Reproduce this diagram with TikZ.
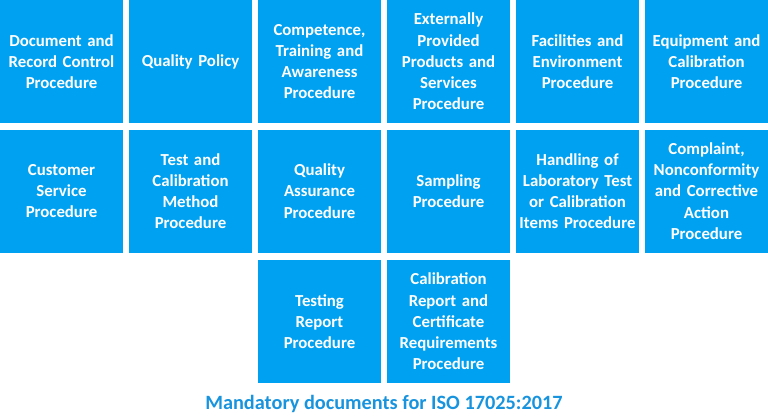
\documentclass[tikz,border=0pt]{standalone}
\usepackage{fontspec}
\setmainfont{Carlito}
\definecolor{tileblue}{RGB}{0,161,241}
\definecolor{captionblue}{RGB}{24,148,222}
\begin{document}
\begin{tikzpicture}
    [ x=1pt, y=1pt
    , tile/.style={fill=tileblue,shape=rectangle,minimum width=123pt,minimum height=123pt,
        inner sep=0pt,text width=121pt,align=center,text=white,
        font=\fontsize{16.8}{21.2}\selectfont\bfseries}
    , caption/.style={text=captionblue,font=\fontsize{20.3}{23}\selectfont\bfseries}
    ]
    \useasboundingbox (0,0) rectangle (768,-415);
    % first row
    \node [tile] (docctrl)   at ( 61.5,-61.5) {Document and\\Record Control\\Procedure};
    \node [tile] (policy)    at (190.5,-61.5) {Quality Policy};
    \node [tile] (competence)at (319.5,-61.5) {Competence,\\Training and\\Awareness\\Procedure};
    \node [tile] (external)  at (448.5,-61.5) {Externally\\Provided\\Products and\\Services\\Procedure};
    \node [tile] (facilities)at (577.5,-61.5) {Facilities and\\Environment\\Procedure};
    \node [tile] (equipment) at (706.5,-61.5) {Equipment and\\Calibration\\Procedure};
    % second row
    \node [tile] (customer)  at ( 61.5,-191) {Customer\\Service\\Procedure};
    \node [tile] (method)    at (190.5,-191) {Test and\\Calibration\\Method\\Procedure};
    \node [tile] (assurance) at (319.5,-191) {Quality\\Assurance\\Procedure};
    \node [tile] (sampling)  at (448.5,-191) {Sampling\\Procedure};
    \node [tile] (handling)  at (577.5,-191) {Handling of\\Laboratory Test\\or Calibration\\Items Procedure};
    \node [tile] (complaint) at (706.5,-191) {Complaint,\\Nonconformity\\and Corrective\\Action\\Procedure};
    % third row
    \node [tile] (testrep)   at (319.5,-321.5) {Testing\\Report\\Procedure};
    \node [tile] (calrep)    at (448.5,-321.5) {Calibration\\Report and\\Certificate\\Requirements\\Procedure};
    \node [caption] (title) at (384,-404) {Mandatory documents for ISO 17025:2017};
\end{tikzpicture}
\end{document}
